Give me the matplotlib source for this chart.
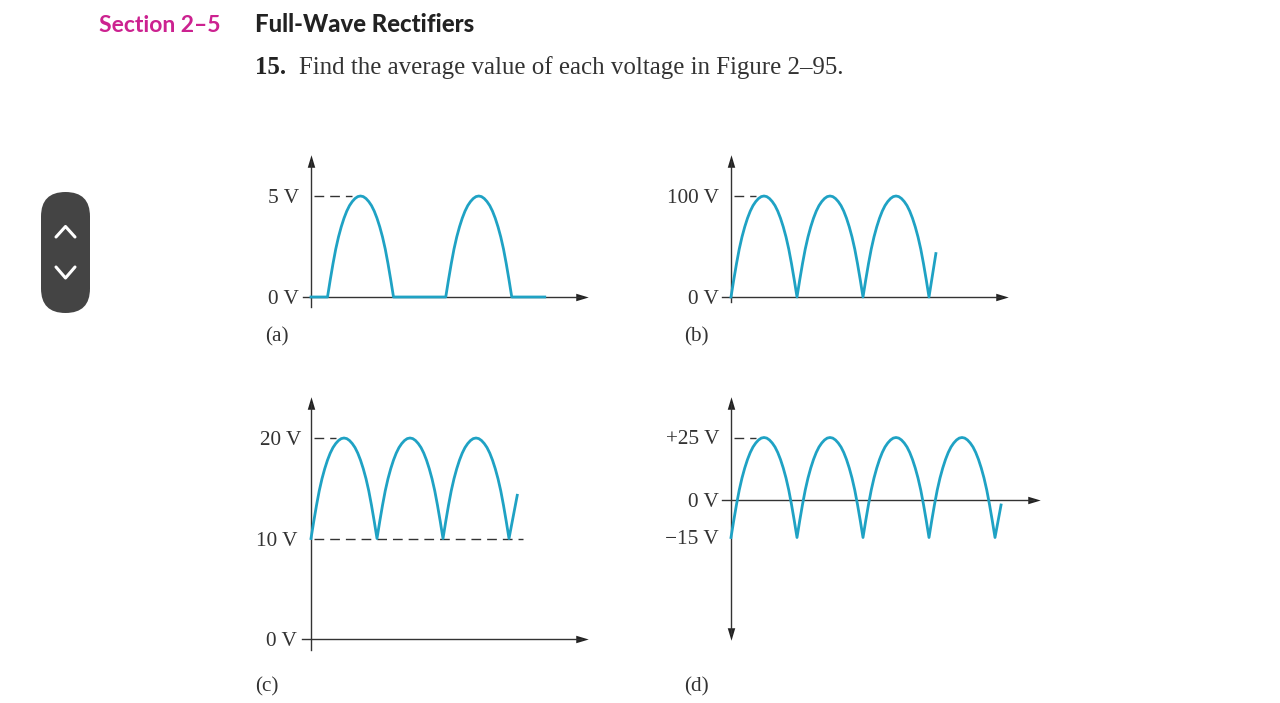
"""
Textbook problem page: average value of rectified voltages, Figure 2-95.
"""

import matplotlib
matplotlib.use("Agg")
import matplotlib.pyplot as plt
from matplotlib.patches import FancyBboxPatch
from matplotlib.transforms import ScaledTranslation

W, H = 1280, 703

# ---------------------------------------
# Data
# ---------------------------------------

heading_section = "Section 2–5"
heading_title = "Full-Wave Rectifiers"
question_number = "15."
question_text = "Find the average value of each voltage in Figure 2–95."

# one arch of each waveform (24 time steps per arch)
a_arch = [0, 0.85, 1.65, 2.375, 2.975, 3.475, 3.9, 4.25, 4.525, 4.725, 4.875, 4.97, 5,
          4.97, 4.875, 4.725, 4.525, 4.25, 3.9, 3.475, 2.975, 2.375, 1.65, 0.85, 0]
b_arch = [0, 17, 33, 47.5, 59.5, 69.5, 78, 85, 90.5, 94.5, 97.5, 99.4, 100,
          99.4, 97.5, 94.5, 90.5, 85, 78, 69.5, 59.5, 47.5, 33, 17]
c_arch = [10, 11.7, 13.3, 14.75, 15.95, 16.95, 17.8, 18.5, 19.05, 19.45, 19.75, 19.94, 20,
          19.94, 19.75, 19.45, 19.05, 18.5, 17.8, 16.95, 15.95, 14.75, 13.3, 11.7]
d_arch = [-15, -8.2, -1.8, 4, 8.8, 12.8, 16.2, 19, 21.2, 22.8, 24, 24.76, 25,
          24.76, 24, 22.8, 21.2, 19, 16.2, 12.8, 8.8, 4, -1.8, -8.2]

a_t = [0] + list(range(6, 31)) + list(range(49, 74)) + [85]
a_v = [0] + a_arch + a_arch + [0]

b_t = list(range(73)) + [74.5]
b_v = b_arch * 3 + [0, 43]

c_t = list(range(73)) + [75]
c_v = c_arch * 3 + [10, 14.3]

d_t = list(range(97)) + [98.2]
d_v = d_arch * 4 + [-15, -2]

a_ticks, a_labels = [0, 5], ["0 V", "5 V"]
b_ticks, b_labels = [0, 100], ["0 V", "100 V"]
c_ticks, c_labels = [0, 10, 20], ["0 V", "10 V", "20 V"]
d_ticks, d_labels = [-15, 0, 25], ["−15 V", "0 V", "+25 V"]

# ---------------------------------------
# Styles
# ---------------------------------------

SERIF = "Liberation Serif"
INK = "#333333"
WAVE = "#1fa2c4"
MAGENTA = "#cc2290"
PX_PER_PT = 100 / 72
PX_PER_STEP = 2.75

# long thin arrow heads
HEAD_RIGHT = [(-1, -0.6), (1, 0), (-1, 0.6)]
HEAD_UP = [(-0.6, -1), (0, 1), (0.6, -1)]
HEAD_DOWN = [(-0.6, 1), (0, -1), (0.6, 1)]

fig = plt.figure(figsize=(W / 100, H / 100), dpi=100)

# page layer in pixel coordinates, for the text and the scroll button
page = fig.add_axes([0, 0, 1, 1])
page.set_xlim(0, W)
page.set_ylim(H, 0)
page.axis("off")

page.text(99, 32, heading_section, family="Lato", weight="bold", fontsize=16.5,
          color=MAGENTA, va="baseline")
page.text(255, 32, heading_title, family="Lato", weight="black", fontsize=17.2,
          color="#222222", va="baseline")
page.text(255, 74, question_number, family=SERIF, weight="bold", fontsize=17.9,
          color="#222222", va="baseline")
page.text(299, 74, question_text, family=SERIF, fontsize=17.9, color="#333333", va="baseline")

for label, x, y in [("(a)", 265, 341), ("(b)", 684, 341), ("(c)", 255, 691), ("(d)", 684, 691)]:
    page.text(x, y, label, family=SERIF, fontsize=15.3, color=INK, va="baseline")

page.add_patch(FancyBboxPatch((41 + 24.5, 192 + 24.5), 0, 121 - 49,
                              boxstyle="round,pad=24.5,rounding_size=24.5",
                              fc="#444444", ec="none"))
page.plot([56, 65.5, 75], [237, 226.5, 237], color="white", lw=2.2, solid_capstyle="round")
page.plot([56, 65.5, 75], [267, 278, 267], color="white", lw=2.2, solid_capstyle="round")


def draw_panel(t, v, ticks, labels, box, origin, px_per_v, pad=12, both_arrows=False):
    left, right, top, bottom = box
    x0, y0 = origin
    ax = fig.add_axes([left / W, 1 - bottom / H, (right - left) / W, (bottom - top) / H])
    ax.patch.set_alpha(0)
    ax.set_xlim((left - x0) / PX_PER_STEP, (right - x0) / PX_PER_STEP)
    ax.set_ylim((y0 - bottom) / px_per_v, (y0 - top) / px_per_v)

    for side in ["top", "right"]:
        ax.spines[side].set_visible(False)
    ax.spines["left"].set_position(("data", 0))
    ax.spines["bottom"].set_position(("data", 0))
    for side in ["left", "bottom"]:
        ax.spines[side].set_color(INK)
        ax.spines[side].set_linewidth(1.0)

    ax.set_xticks([])
    ax.set_yticks(ticks)
    ax.set_yticklabels(labels, family=SERIF, fontsize=15.3, color=INK)
    ax.tick_params(axis="y", length=0, pad=pad / PX_PER_PT)

    ax.plot(t, v, color=WAVE, lw=2.0, solid_joinstyle="round", clip_on=False, zorder=4)

    # axis arrow heads
    ax.plot(1, 0, marker=HEAD_RIGHT, color="#222222", ms=9, mew=0,
            transform=ax.get_yaxis_transform(), clip_on=False)
    ax.plot(0, 1, marker=HEAD_UP, color="#222222", ms=9, mew=0,
            transform=ax.get_xaxis_transform(), clip_on=False)
    if both_arrows:
        ax.plot(0, 0, marker=HEAD_DOWN, color="#222222", ms=9, mew=0,
                transform=ax.get_xaxis_transform(), clip_on=False)
    return ax


DASH = dict(color=INK, lw=1.0, dashes=(7, 4.3), zorder=2)

ax_a = draw_panel(a_t, a_v, a_ticks, a_labels, (303, 582, 161, 307), (311, 297), 20.2)
ax_a.plot([1, 15], [5, 5], **DASH)

ax_b = draw_panel(b_t, b_v, b_ticks, b_labels, (722, 1002, 161, 302), (731, 297), 1.01)
ax_b.plot([1, 9], [100, 100], **DASH)

ax_c = draw_panel(c_t, c_v, c_ticks, c_labels, (302, 582, 403, 650), (311, 639), 10.05, pad=14)
ax_c.plot([1, 77], [10, 10], **DASH)
ax_c.plot([1, 9], [20, 20], **DASH)
# the 20 V label sits closer to the axis than the other two
top_label = ax_c.get_yticklabels()[2]
top_label.set_transform(top_label.get_transform()
                        + ScaledTranslation(4 / 100, 0, fig.dpi_scale_trans))

ax_d = draw_panel(d_t, d_v, d_ticks, d_labels, (722, 1034, 403, 634), (731, 500), 2.5, both_arrows=True)
ax_d.plot([1, 9], [25, 25], **DASH)

fig.savefig("out.png", dpi=100)
